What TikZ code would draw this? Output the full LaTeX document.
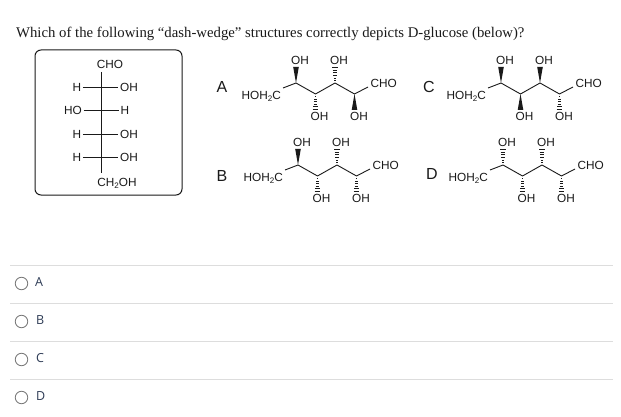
\documentclass[tikz,border=0pt]{standalone}
\usepackage{fontspec}
\setmainfont{Liberation Sans}
\newfontfamily\titlefont{Liberation Serif}
\newfontfamily\optfont{Open Sans}
\usetikzlibrary{calc}
\definecolor{ink}{HTML}{1A1A1A}
\definecolor{rulegray}{HTML}{DDDDDD}
\definecolor{ringgray}{HTML}{777777}
\definecolor{optink}{HTML}{2D3B55}
\newcommand{\subtwo}{{\fontsize{8}{8}\selectfont\raisebox{-2pt}{2}}}
\tikzset{
  lab/.style={inner sep=1.5pt,text height=8.2pt,text depth=0pt,font=\fontsize{11.8}{12}\selectfont,text=ink},
  letterlab/.style={inner sep=0pt,text height=11.4pt,text depth=0pt,font=\fontsize{16}{16}\selectfont,text=ink},
  bond/.style={draw=ink,line width=0.9pt},
  optrule/.style={draw=rulegray,line width=0.8pt},
  ring/.style={circle,draw=ringgray,line width=0.8pt,minimum size=12.5pt,inner sep=0pt},
  optlab/.style={inner sep=0pt,anchor=west,text height=9pt,text depth=0pt,font=\optfont\fontsize{12.5}{13}\selectfont,text=optink}
}
\newcommand{\wdg}[2]{\fill[ink] (#1) -- ($(#2)+(-2.8,0)$) -- ($(#2)+(2.8,0)$) -- cycle;}
\newcommand{\hsh}[2]{\foreach \i in {1,...,6}{
  \draw[ink,line width=0.8pt] ($(#1)!\i/6.3!(#2)+({-0.3-0.42*\i},0)$) -- ($(#1)!\i/6.3!(#2)+({0.3+0.42*\i},0)$);}}
\newcommand{\sugar}[7]{
\begin{scope}[shift={(#2,#3)}]
  \coordinate (#1v1) at (0,0);
  \coordinate (#1v2) at (19.5,11);
  \coordinate (#1v3) at (39,0);
  \coordinate (#1v4) at (58.5,11);
  \coordinate (#1l) at (-13,5);
  \coordinate (#1r) at (72,4);
  \coordinate (#1t1) at (0,-16);
  \coordinate (#1t2) at (19.5,27);
  \coordinate (#1t3) at (39,-16);
  \coordinate (#1t4) at (58.5,27);
  \node[lab] (#1oha) at (4,-23) {OH};
  \node[lab] (#1ohb) at (23.5,33) {OH};
  \node[lab] (#1ohc) at (43,-23) {OH};
  \node[lab] (#1ohd) at (63,33) {OH};
  \node[lab,anchor=west,inner sep=0pt] (#1cho) at (74.5,0) {CHO};
  \node[lab,anchor=east,inner sep=0pt] (#1hoh) at (-15,12) {HOH\subtwo C};
  \draw[bond,line join=round] (#1l) -- (#1v1) -- (#1v2) -- (#1v3) -- (#1v4) -- (#1r);
  #4{#1v1}{#1t1}
  #5{#1v2}{#1t2}
  #6{#1v3}{#1t3}
  #7{#1v4}{#1t4}
\end{scope}}
\begin{document}
\begin{tikzpicture}[x=1pt,y=-1pt]
\useasboundingbox (0,0) rectangle (621,417);
\fill[white] (0,0) rectangle (621,417);
\node[inner sep=0pt,anchor=west,text=ink,font=\titlefont\fontsize{14.75}{15}\selectfont] (title) at (16,34) {Which of the following “dash-wedge” structures correctly depicts D-glucose (below)?};
% Fischer box
\node[draw=ink,line width=1pt,rounded corners=6pt,minimum width=147pt,minimum height=145pt,inner sep=0pt] (box) at (108.5,122.5) {};
\node[lab] (cho) at (110,64) {CHO};
\node[lab] (chtwo) at (117,182) {CH\subtwo OH};
\node[lab] (h1) at (77,87) {H};
\node[lab] (oh1) at (129,87) {OH};
\node[lab] (ho2) at (73,110) {HO};
\node[lab] (h2) at (125,110) {H};
\node[lab] (h3) at (77,134) {H};
\node[lab] (oh3) at (129,134) {OH};
\node[lab] (h4) at (77,157) {H};
\node[lab] (oh4) at (129,157) {OH};
\coordinate (ftop) at (101,72);
\coordinate (fbot) at (101,173);
\draw[bond] (ftop) -- (fbot);
\draw[bond] (h1) -- (oh1);
\draw[bond] (ho2) -- (h2);
\draw[bond] (h3) -- (oh3);
\draw[bond] (h4) -- (oh4);
% dash-wedge structures
\node[letterlab] (la) at (222,87) {A};
\sugar{a}{296}{83}{\wdg}{\hsh}{\hsh}{\wdg}
\node[letterlab] (lc) at (429,87) {C};
\sugar{c}{501}{83}{\wdg}{\wdg}{\wdg}{\hsh}
\node[letterlab] (lb) at (222,176) {B};
\sugar{b}{298}{165}{\wdg}{\hsh}{\hsh}{\hsh}
\node[letterlab] (ld) at (432,174) {D};
\sugar{d}{503}{165}{\hsh}{\hsh}{\hsh}{\hsh}
% options
\coordinate (r1a) at (10,265); \coordinate (r1b) at (613,265);
\coordinate (r2a) at (10,303); \coordinate (r2b) at (613,303);
\coordinate (r3a) at (10,341); \coordinate (r3b) at (613,341);
\coordinate (r4a) at (10,379); \coordinate (r4b) at (613,379);
\draw[optrule] (r1a) -- (r1b);
\draw[optrule] (r2a) -- (r2b);
\draw[optrule] (r3a) -- (r3b);
\draw[optrule] (r4a) -- (r4b);
\node[ring] (ra) at (21.5,283.5) {};
\node[ring] (rb) at (21.5,321.5) {};
\node[ring] (rc) at (21.5,359.5) {};
\node[ring] (rd) at (21.5,397.5) {};
\node[optlab] (oa) at (35,282) {A};
\node[optlab] (ob) at (36,320) {B};
\node[optlab] (oc) at (36,358) {C};
\node[optlab] (od) at (36,396) {D};
\end{tikzpicture}
\end{document}
